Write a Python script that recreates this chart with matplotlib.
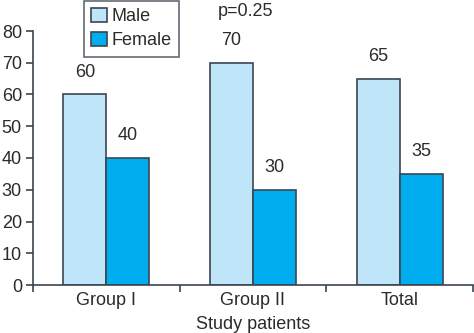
import matplotlib
matplotlib.use("Agg")
import matplotlib.pyplot as plt
import numpy as np

categories = ["Group I", "Group II", "Total"]
male = [60, 70, 65]
female = [40, 30, 35]
yticks = [0, 10, 20, 30, 40, 50, 60, 70, 80]

plt.rcParams['font.family'] = ['Liberation Sans', 'DejaVu Sans']
txt = '#2b2b2b'
edge = '#3b4650'
c_male = '#bfe6f8'
c_female = '#00aeef'
fs = 13

fig = plt.figure(figsize=(4.74, 3.33), dpi=100)
ax = fig.add_axes([33/474, 1-285/333, 440/474, (285-31)/333])

x = np.arange(len(categories))
w = 43/147
b1 = ax.bar(x - w/2, male, w, color=c_male, edgecolor=edge, linewidth=1.2, label='Male')
b2 = ax.bar(x + w/2, female, w, color=c_female, edgecolor=edge, linewidth=1.2, label='Female')

for bars, vals in ((b1, male), (b2, female)):
    for r, v in zip(bars, vals):
        ax.annotate(f"{v}", (r.get_x() + r.get_width()/2, v), xytext=(0, 10),
                    textcoords='offset points', ha='center', va='bottom',
                    fontsize=fs, color=txt)

ax.set_xlim(-0.5, 2.5)
ax.set_ylim(0, 80)
ax.set_yticks(yticks)
ax.set_yticklabels([str(t) for t in yticks], fontsize=fs, color=txt)
ax.set_xticks(x)
ax.set_xticklabels(categories, fontsize=fs, color=txt)
ax.tick_params(axis='x', length=0, pad=5)
ax.set_xticks([-0.5, 0.5, 1.5, 2.5], minor=True)
ax.tick_params(axis='x', which='minor', length=5, width=1.2, color=edge, direction='out')
ax.tick_params(axis='y', length=5, width=1.2, color=edge, direction='out', pad=3)
for s in ['top', 'right']:
    ax.spines[s].set_visible(False)
for s in ['left', 'bottom']:
    ax.spines[s].set_color(edge)
    ax.spines[s].set_linewidth(1.2)
ax.set_xlabel("Study patients", fontsize=fs, color=txt, labelpad=5)

leg = ax.legend(loc='upper left', bbox_to_anchor=(84/474, 1 - 0.5/333), bbox_transform=fig.transFigure,
                fontsize=fs, frameon=True, fancybox=False, edgecolor=edge,
                handlelength=0.85, handleheight=0.85, handletextpad=0.3,
                borderpad=0.4, labelspacing=0.38, borderaxespad=0)
leg.get_frame().set_linewidth(1.2)
for t in leg.get_texts():
    t.set_color(txt)

fig.text(246/474, 1 - 12/333, "p=0.25", ha='center', va='center', fontsize=fs, color=txt)

fig.savefig("out.png", dpi=100)
